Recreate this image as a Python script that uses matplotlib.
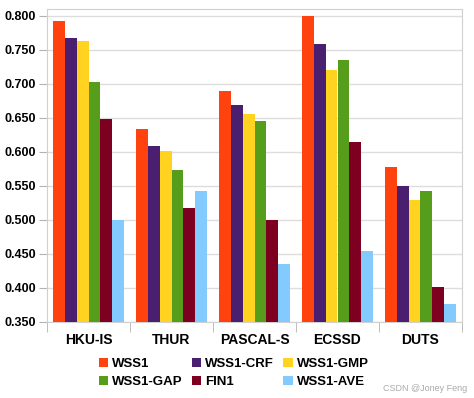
import matplotlib.pyplot as plt
import numpy as np

plt.rcParams['font.family'] = ['Liberation Sans', 'DejaVu Sans']

# Data
datasets = ["HKU-IS", "THUR", "PASCAL-S", "ECSSD", "DUTS"]
methods = ["WSS1", "WSS1-CRF", "WSS1-GMP", "WSS1-GAP", "FIN1", "WSS1-AVE"]
wss1 = [0.792, 0.634, 0.690, 0.800, 0.578]
wss1_crf = [0.768, 0.609, 0.669, 0.759, 0.550]
wss1_gmp = [0.763, 0.601, 0.655, 0.720, 0.529]
wss1_gap = [0.702, 0.573, 0.645, 0.735, 0.542]
fin1 = [0.648, 0.518, 0.500, 0.615, 0.401]
wss1_ave = [0.500, 0.543, 0.435, 0.455, 0.377]
series = [wss1, wss1_crf, wss1_gmp, wss1_gap, fin1, wss1_ave]
colors = ["#ff420e", "#4b1f6f", "#ffd320", "#579d1c", "#7e0021", "#83caff"]

fig = plt.figure(figsize=(4.74, 3.98), dpi=100)
ax = fig.add_axes([47 / 474, (398 - 322) / 398, 415 / 474, 313 / 398])

x = np.arange(len(datasets))
w = 0.142
bars = []
for i, (vals, col, name) in enumerate(zip(series, colors, methods)):
    bars.append(ax.bar(x + (i - 2.5) * w, vals, width=w, color=col,
                       label=name, zorder=3))

ax.set_xlim(-0.5, len(datasets) - 0.5)
ax.set_ylim(0.35, 0.81)
ax.set_yticks(np.arange(0.35, 0.801, 0.05))
ax.set_yticklabels([f"{v:.3f}" for v in np.arange(0.35, 0.801, 0.05)],
                   fontsize=9, fontweight='bold')
ax.set_xticks(x)
ax.set_xticklabels(datasets, fontsize=10, fontweight='bold')
ax.set_xticks(np.arange(-0.5, len(datasets)), minor=True)
ax.tick_params(axis='x', which='major', length=0, pad=8)
ax.tick_params(axis='x', which='minor', length=7, color='#b3b3b3')
ax.tick_params(axis='y', length=6, color='#b3b3b3', pad=2)

ax.grid(axis='y', color='#dddddd', linewidth=1, zorder=0)
for s in ax.spines.values():
    s.set_color('#d0d0d0')

# legend is filled row by row in the reference
order = [0, 3, 1, 4, 2, 5]
fig.legend([bars[i] for i in order], [methods[i] for i in order],
           loc='upper left', bbox_to_anchor=(99 / 474, 1 - 358 / 398), ncol=3,
           frameon=False, prop={'size': 9.5, 'weight': 'bold'},
           handlelength=0.7, handleheight=0.7, handletextpad=0.3,
           columnspacing=0.7, labelspacing=0.45, borderaxespad=0, borderpad=0)

fig.text(0.985, 0.012, "CSDN @Joney Feng", ha='right', va='bottom',
         fontsize=6.5, color='#aaaaaa')

fig.savefig("out.png", dpi=100)
